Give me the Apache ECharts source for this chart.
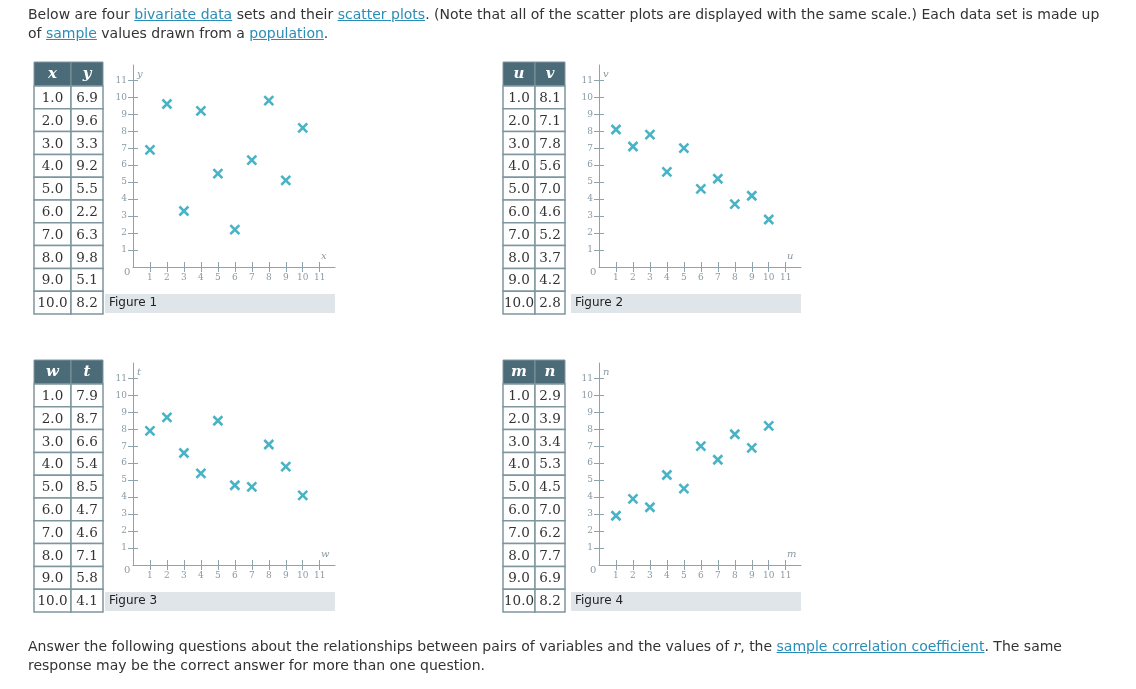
<!DOCTYPE html>
<html><head><meta charset="utf-8">
<script src="https://cdn.jsdelivr.net/npm/echarts@6/dist/echarts.min.js"></script>
<style>
body{margin:0;background:#fff;font-family:"DejaVu Sans",Verdana,sans-serif;}
#c{position:absolute;left:0;top:0;width:1136px;height:689px;}
.p{position:absolute;left:28px;font-size:14px;color:#333;line-height:19px;white-space:nowrap;}
a{color:#2a8db8;text-decoration:underline;}
</style></head><body>
<div id="c"></div>
<div class="p" style="top:5px">Below are four <a>bivariate data</a> sets and their <a>scatter plots</a>. (Note that all of the scatter plots are displayed with the same scale.) Each data set is made up<br>of <a>sample</a> values drawn from a <a>population</a>.</div>
<div class="p" style="top:637px">Answer the following questions about the relationships between pairs of variables and the values of <i style="font-family:'DejaVu Serif',serif">r</i>, the <a>sample correlation coefficient</a>. The same<br>response may be the correct answer for more than one question.</div>
<script>
const xVals = [1,2,3,4,5,6,7,8,9,10];
const fig1Y = [6.9,9.6,3.3,9.2,5.5,2.2,6.3,9.8,5.1,8.2];
const fig2V = [8.1,7.1,7.8,5.6,7.0,4.6,5.2,3.7,4.2,2.8];
const fig3T = [7.9,8.7,6.6,5.4,8.5,4.7,4.6,7.1,5.8,4.1];
const fig4N = [2.9,3.9,3.4,5.3,4.5,7.0,6.2,7.7,6.9,8.2];
const varNames = [['x','y'],['u','v'],['w','t'],['m','n']];
const figTitles = ['Figure 1','Figure 2','Figure 3','Figure 4'];
const tickNums = [1,2,3,4,5,6,7,8,9,10,11];
const seriesData = [fig1Y,fig2V,fig3T,fig4N];

const offs = [[0,0],[466,0],[0,298],[466,298]];
const chart = echarts.init(document.getElementById('c'));
const grids=[],xAxes=[],yAxes=[],series=[],graphic=[];
const axisCol='#8fa3ad', lblCol='#8a9aa4';
const lbl={color:lblCol,fontFamily:'DejaVu Serif',fontSize:9,customValues:tickNums};
const tk=(inside)=>({show:true,inside,length:5,customValues:tickNums,lineStyle:{color:axisCol}});
offs.forEach(([dx,dy],i)=>{
  grids.push({left:133+dx,top:65+dy,width:202,height:202});
  const base={min:0,max:11.9,interval:1,splitLine:{show:false}};
  xAxes.push({...base,gridIndex:i,type:'value',position:'bottom',axisLine:{onZero:false,lineStyle:{color:axisCol}},axisTick:tk(false),axisLabel:{...lbl,margin:6}});
  xAxes.push({...base,gridIndex:i,type:'value',position:'bottom',axisLine:{show:false,onZero:false},axisTick:tk(true),axisLabel:{show:false}});
  yAxes.push({...base,gridIndex:i,type:'value',position:'left',axisLine:{show:true,onZero:false,lineStyle:{color:axisCol}},axisTick:tk(false),axisLabel:{...lbl,margin:6}});
  yAxes.push({...base,gridIndex:i,type:'value',position:'left',axisLine:{show:false,onZero:false},axisTick:tk(true),axisLabel:{show:false}});
  series.push({type:'scatter',xAxisIndex:2*i,yAxisIndex:2*i,data:xVals.map((x,k)=>[x,seriesData[i][k]]),
    symbol:'path://M0,0L10,10M10,0L0,10',symbolSize:9,
    itemStyle:{color:'none',borderColor:'#1ba0b8',borderWidth:2.6},emphasis:{disabled:true}});
  const st={fill:lblCol,fontFamily:'DejaVu Serif',fontStyle:'italic',fontSize:10};
  graphic.push({type:'text',left:137+dx,top:69+dy,style:{...st,text:varNames[i][1]}});
  graphic.push({type:'text',left:321+dx,top:251+dy,style:{...st,text:varNames[i][0]}});
  graphic.push({type:'text',left:124+dx,top:267+dy,style:{fill:lblCol,fontFamily:'DejaVu Serif',fontSize:10,text:'0'}});
  graphic.push({type:'rect',shape:{x:105+dx,y:294+dy,width:230,height:19},style:{fill:'#dfe5e8'}});
  graphic.push({type:'text',left:109+dx,top:297+dy,style:{text:figTitles[i],fill:'#222',fontFamily:'DejaVu Sans',fontSize:12}});
  const c0=dx?503:34, widths=dx?[32,30]:[37,32];
  const colX=[c0,c0+widths[0]];
  const top=62+dy, hh=24, rh=22.8;
  [0,1].forEach(j=>{
    graphic.push({type:'rect',shape:{x:colX[j],y:top,width:widths[j],height:hh},style:{fill:'#4b6b78',stroke:'#7f969f',lineWidth:1}});
    graphic.push({type:'text',x:colX[j]+widths[j]/2,y:top+hh/2,style:{text:varNames[i][j],fill:'#fff',fontFamily:'DejaVu Serif',fontStyle:'italic',fontWeight:'bold',fontSize:15,align:'center',verticalAlign:'middle'}});
    xVals.forEach((x,k)=>{
      const y=top+hh+k*rh;
      const v=j===0?x.toFixed(1):seriesData[i][k].toFixed(1);
      graphic.push({type:'rect',shape:{x:colX[j],y:y,width:widths[j],height:rh},style:{fill:'#fff',stroke:'#7f969f',lineWidth:1.5}});
      graphic.push({type:'text',x:colX[j]+widths[j]/2,y:y+rh/2+1,style:{text:v,fill:'#333',fontFamily:'DejaVu Serif',fontSize:13.5,align:'center',verticalAlign:'middle'}});
    });
  });
});
chart.setOption({animation:false,grid:grids,xAxis:xAxes,yAxis:yAxes,series,graphic});
</script></body></html>
